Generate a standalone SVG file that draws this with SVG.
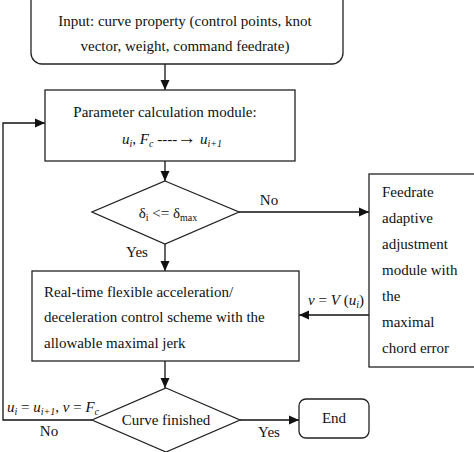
<svg xmlns="http://www.w3.org/2000/svg" width="474" height="452" viewBox="0 0 474 452">
<style>
text{font-family:"Liberation Serif","Times New Roman",serif;font-size:15px;fill:#111}
.m{text-anchor:middle}
.i{font-style:italic}
.s{font-size:10px}
.box{fill:#fff;stroke:#222;stroke-width:1.3}
.ln{fill:none;stroke:#111;stroke-width:1.3}
</style>
<defs>
<marker id="ah" viewBox="0 0 10 10" refX="10" refY="5" markerWidth="10" markerHeight="10" markerUnits="userSpaceOnUse" orient="auto">
<path d="M0,0.5 L10,5 L0,9.5 Z" fill="#111"/>
</marker>
</defs>
<rect width="474" height="452" fill="#fff"/>
<g id="connectors">
<line class="ln" x1="165" y1="64" x2="165" y2="90" marker-end="url(#ah)"/>
<line class="ln" x1="165" y1="161" x2="165" y2="181" marker-end="url(#ah)"/>
<line class="ln" x1="239" y1="212" x2="369" y2="212" marker-end="url(#ah)"/>
<line class="ln" x1="165" y1="244" x2="165" y2="271" marker-end="url(#ah)"/>
<line class="ln" x1="369" y1="315" x2="299" y2="315" marker-end="url(#ah)"/>
<line class="ln" x1="165" y1="361" x2="165" y2="388" marker-end="url(#ah)"/>
<line class="ln" x1="240" y1="420" x2="299" y2="420" marker-end="url(#ah)"/>
<polyline class="ln" points="92,420 3,420 3,123 45,123" marker-end="url(#ah)"/>
<text x="269" y="205" class="m">No</text>
<text x="137" y="257" class="m">Yes</text>
<text x="336" y="305" class="m"><tspan class="i">v</tspan> = <tspan class="i">V</tspan> (<tspan class="i">u</tspan><tspan class="s i" dy="3">i</tspan><tspan dy="-3">)</tspan></text>
<text x="7" y="412"><tspan class="i">u</tspan><tspan class="s i" dy="3">i</tspan><tspan dy="-3"> = </tspan><tspan class="i">u</tspan><tspan class="s i" dy="3">i+1</tspan><tspan dy="-3">, </tspan><tspan class="i">v</tspan> = <tspan class="i">F</tspan><tspan class="s i" dy="3">c</tspan></text>
<text x="49" y="436" class="m">No</text>
<text x="269" y="437" class="m">Yes</text>
</g>
<g id="input">
<rect class="box" x="31" y="-10" width="312" height="74" rx="11"/>
<text x="185" y="26" class="m">Input: curve property (control points, knot</text>
<text x="185" y="51" class="m">vector, weight, command feedrate)</text>
</g>
<g id="param">
<rect class="box" x="45" y="90" width="250" height="71"/>
<text x="165" y="117" class="m">Parameter calculation module:</text>
<text x="172" y="144" class="m"><tspan class="i">u</tspan><tspan class="s i" dy="3">i</tspan><tspan dy="-3">, </tspan><tspan class="i">F</tspan><tspan class="s i" dy="3">c</tspan><tspan dy="-3"> ----</tspan><tspan style="font-size:19px">→</tspan> <tspan class="i">u</tspan><tspan class="s i" dy="3">i+1</tspan></text>
</g>
<g id="check">
<polygon class="box" points="165,181 239,212 165,244 92,212"/>
<text x="168" y="218" class="m">δ<tspan class="s" dy="3">i</tspan><tspan dy="-3"> &lt;= δ</tspan><tspan class="s" dy="3">max</tspan></text>
</g>
<g id="feedrate">
<rect class="box" x="369" y="174" width="110" height="193"/>
<text x="382" y="197">Feedrate</text>
<text x="382" y="223">adaptive</text>
<text x="382" y="249">adjustment</text>
<text x="382" y="275">module with</text>
<text x="382" y="301">the</text>
<text x="382" y="327">maximal</text>
<text x="382" y="353">chord error</text>
</g>
<g id="realtime">
<rect class="box" x="32" y="271" width="267" height="90"/>
<text x="44" y="297">Real-time flexible acceleration/</text>
<text x="44" y="322">deceleration control scheme with the</text>
<text x="44" y="348">allowable maximal jerk</text>
</g>
<g id="finished">
<polygon class="box" points="166,388 240,420 166,452 92,420"/>
<text x="166" y="425" class="m">Curve finished</text>
</g>
<g id="end">
<rect class="box" x="299" y="399" width="70" height="39" rx="7"/>
<text x="334" y="423" class="m">End</text>
</g>
</svg>
